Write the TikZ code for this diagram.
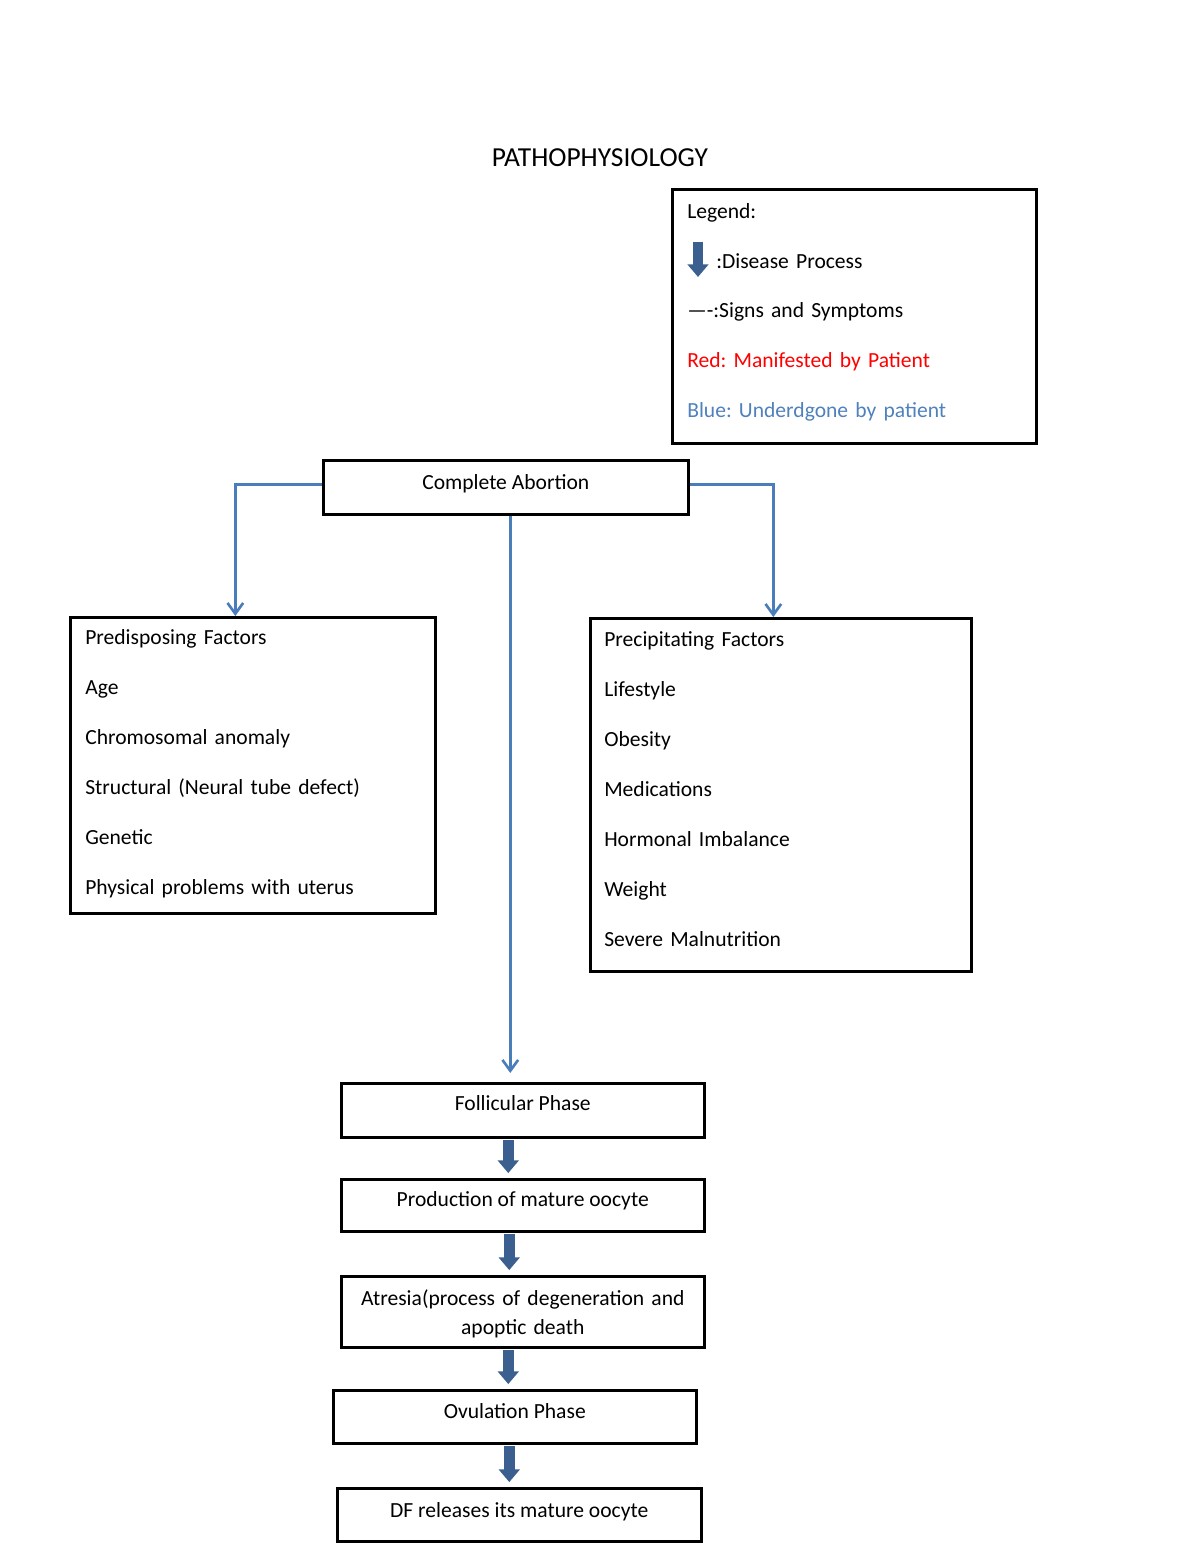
\documentclass[tikz,border=0pt]{standalone}
\usepackage{fontspec}
\setmainfont{Carlito}
\usetikzlibrary{arrows.meta}
\definecolor{linkblue}{HTML}{4A7EBB}
\definecolor{stepblue}{HTML}{3B5F8E}
\definecolor{legendred}{HTML}{FF0000}
\definecolor{legendblue}{HTML}{4F81BD}
\frenchspacing

\begin{document}
\begin{tikzpicture}[x=0.51pt,y=-0.51pt,>=Latex]
\tikzstyle{frame}=[draw=black,line width=1.3pt,anchor=north west,inner xsep=0pt,inner ysep=0pt,align=center,font=\fontsize{11}{14.8}\selectfont]
\tikzstyle{listbox}=[frame,align=left,inner xsep=7.65pt,font=\fontsize{11}{25.5}\selectfont]
\tikzstyle{flow}=[linkblue,line width=1.35pt,-{Straight Barb[length=5.5pt,width=8pt]}]
\tikzstyle{stepdown}=[stepblue,line width=5.4pt,-{Triangle[length=6.5pt,width=10.5pt]}]
\useasboundingbox (0,0) rectangle (1200,1553);
\node[font=\fontsize{14}{17}\selectfont] (title) at (600,158) {PATHOPHYSIOLOGY};
\node[listbox,text width=170.34pt,text height=14.79pt,text depth=114.75pt,font=\fontsize{11}{25.37}\selectfont] (legend) at (671,188)
  {Legend:\\ \hspace*{14.8pt}:Disease Process\\ —-:Signs and Symptoms\\ \textcolor{legendred}{Red: Manifested by Patient}\\ \textcolor{legendblue}{Blue: Underdgone by patient}};
\draw[stepdown] (698,242) -- (698,277);
\node[frame,minimum width=186.15pt,text height=14.79pt,text depth=12.75pt] (abort) at (322,459) {Complete Abortion};
\node[listbox,text width=170.85pt,text height=14.03pt,text depth=136.94pt] (predis) at (69,616)
  {Predisposing Factors\\ Age\\ Chromosomal anomaly\\ Structural (Neural tube defect)\\ Genetic\\ Physical problems with uterus};
\node[listbox,inner xsep=7.14pt,text width=180.03pt,text height=14.54pt,text depth=165.5pt] (precip) at (589,617)
  {Precipitating Factors\\ Lifestyle\\ Obesity\\ Medications\\ Hormonal Imbalance\\ Weight\\ Severe Malnutrition};
% disease process
\node[frame,minimum width=185.13pt,text height=14.03pt,text depth=13.52pt] (foll) at (340,1082) {Follicular Phase};
\node[frame,minimum width=185.13pt,text height=14.03pt,text depth=12.5pt] (prod) at (340,1178) {Production of mature oocyte};
\node[frame,text width=185.13pt,text height=15.05pt,text depth=21.17pt] (atr) at (340,1275) {Atresia(process of degeneration and\\ apoptic death};
\node[frame,minimum width=185.13pt,text height=14.54pt,text depth=12.5pt] (ovu) at (332,1389) {Ovulation Phase};
\node[frame,minimum width=185.64pt,text height=15.05pt,text depth=11.99pt] (df) at (336,1487) {DF releases its mature oocyte};
\draw[flow] ([yshift=1.5pt]abort.west) -| ([xshift=-8.9pt]predis.north);
\draw[flow] ([yshift=1.5pt]abort.east) -| ([xshift=-3.8pt]precip.north);
\draw[flow,shorten >=4.6pt] ([xshift=2.3pt]abort.south) -- ([xshift=2.3pt]abort.south |- foll.north);
\foreach \a/\b/\s in {foll/prod/-7.4pt,prod/atr/-6.9pt,atr/ovu/-7.4pt,ovu/df/-2.8pt}
  \draw[stepdown,shorten <=0.8pt,shorten >=2.5pt] ([xshift=\s]\a.south) -- ([xshift=\s]\a.south |- \b.north);
\end{tikzpicture}
\end{document}
